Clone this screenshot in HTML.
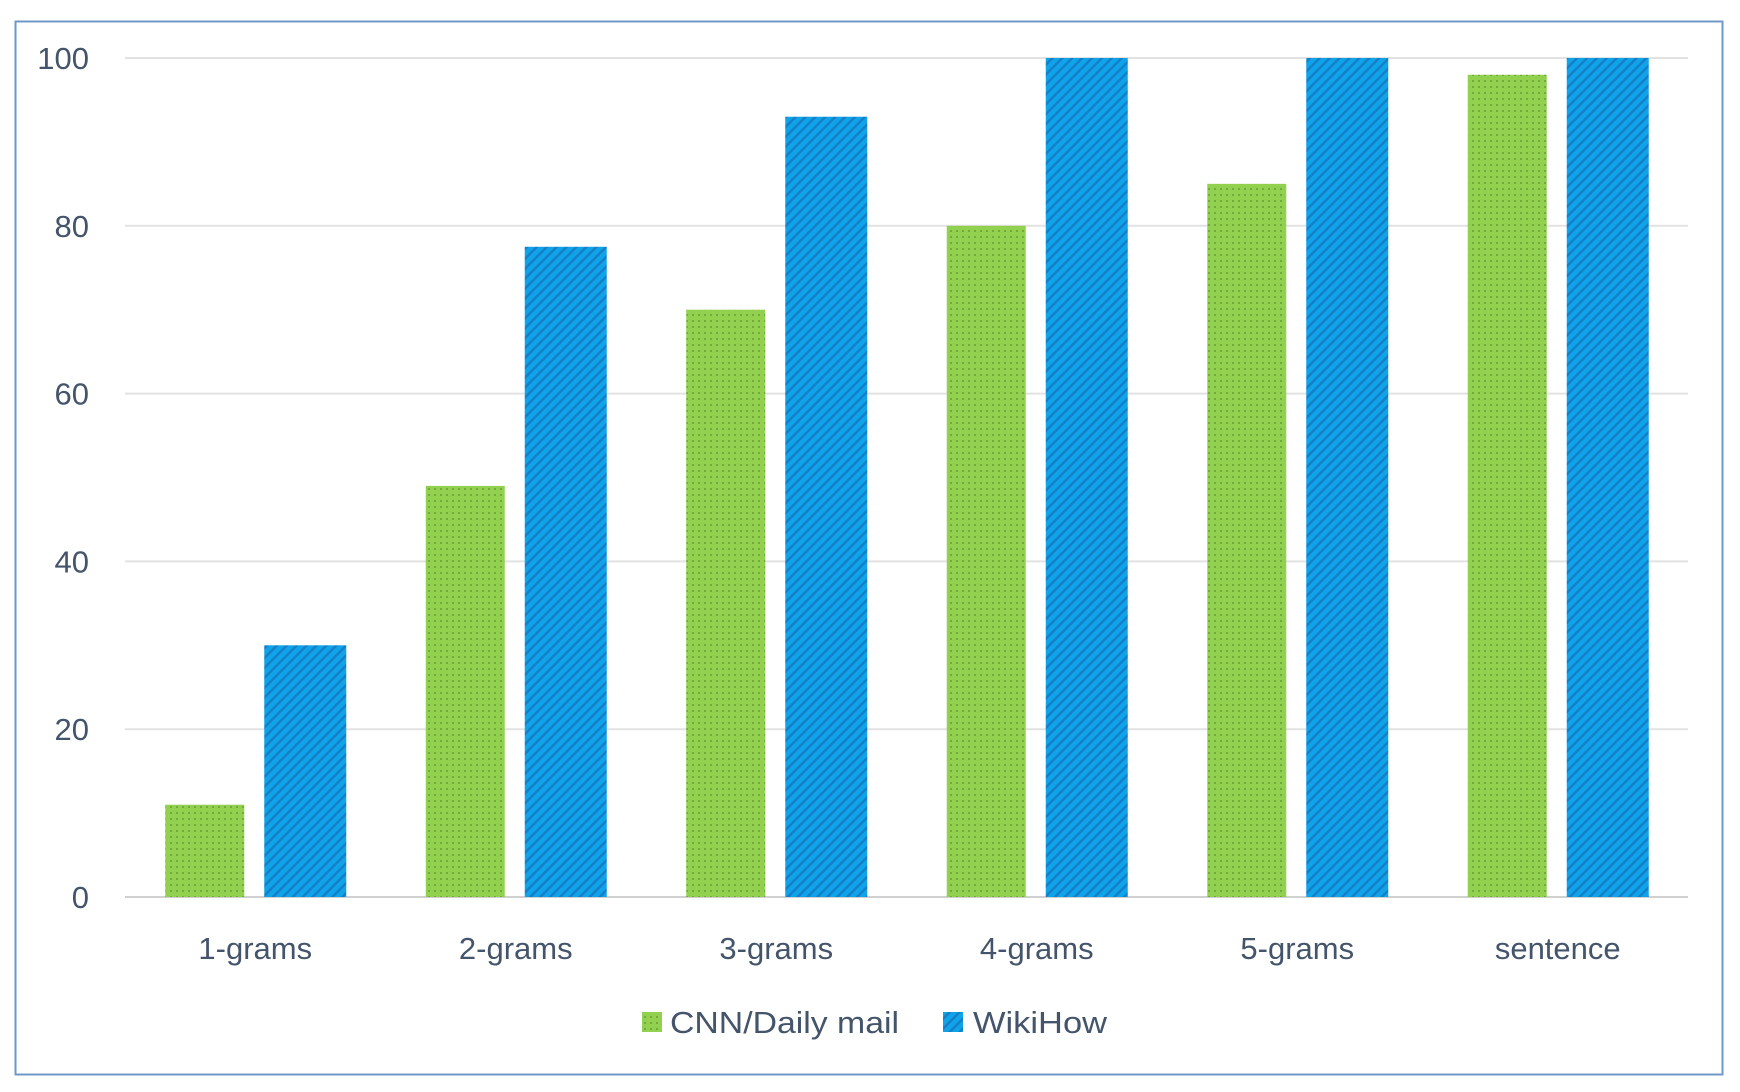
<!DOCTYPE html>
<html><head><meta charset="utf-8"><style>html,body{margin:0;padding:0;background:#fff}svg{display:block}</style></head>
<body>
<svg id="chart" width="1740" height="1092" xmlns="http://www.w3.org/2000/svg" font-family="'Liberation Sans', sans-serif">
<defs>
<pattern id="dots" width="6" height="6" patternUnits="userSpaceOnUse"><rect width="6" height="6" fill="#92D050"/><circle cx="3" cy="3" r="0.9" fill="#5f8f2a"/></pattern>
<pattern id="stripes" width="7" height="7" patternUnits="userSpaceOnUse" patternTransform="rotate(45)"><rect width="7" height="7" fill="#0FA3EA"/><rect width="2.5" height="7" fill="#1580C8"/></pattern>
</defs>
<rect x="15.5" y="21.5" width="1707" height="1053" fill="#fff" stroke="#6f9ac7" stroke-width="2"/>
<g id="grid"></g><g id="bars"></g><g id="labels"></g>
<g>
<rect x="642" y="1012" width="20" height="20" fill="url(#dots)"/>
<text x="670" y="1033" font-size="31" fill="#44546A" textLength="229" lengthAdjust="spacingAndGlyphs">CNN/Daily mail</text>
<rect x="943" y="1012" width="20" height="20" fill="url(#stripes)"/>
<text x="973" y="1033" font-size="31" fill="#44546A" textLength="134" lengthAdjust="spacingAndGlyphs">WikiHow</text>
</g>
</svg>
<script>
const categories = ["1-grams","2-grams","3-grams","4-grams","5-grams","sentence"];
const cnnValues = [11,49,70,80,85,98];
const wikiValues = [30,77.5,93,100,100,100];
const yTicks = [0,20,40,60,80,100];
const NS="http://www.w3.org/2000/svg";
const X0=125,X1=1688,Y0=897,Y1=58,YMAX=100;
const y=v=>Y0-(v/YMAX)*(Y0-Y1);
const bw=(X1-X0)/categories.length;
const xc=i=>X0+bw*(i+0.5);
function mk(t,a,p){const e=document.createElementNS(NS,t);for(const k in a)e.setAttribute(k,a[k]);p.appendChild(e);return e;}
const grid=document.getElementById('grid'),bars=document.getElementById('bars'),labels=document.getElementById('labels');
yTicks.forEach(t=>{
 const l=mk('line',{x1:X0,x2:X1,y1:y(t),y2:y(t),stroke:t===0?'#d0d0d0':'#e2e2e2','stroke-width':2},grid);
 
 
 const tx=mk('text',{x:89,y:y(t)+11,'text-anchor':'end','font-size':31,fill:'#44546A'},labels);
 
 
 tx.textContent=t;
});
categories.forEach((c,i)=>{
 const cx=xc(i);
 const g=mk('rect',{x:cx-90,y:y(cnnValues[i]),width:79,height:Y0-y(cnnValues[i]),fill:'url(#dots)'},bars);
 
 
 const b=mk('rect',{x:cx+9,y:y(wikiValues[i]),width:82,height:Y0-y(wikiValues[i]),fill:'url(#stripes)'},bars);
 
 
 const t=mk('text',{x:cx,y:959,'text-anchor':'middle','font-size':31,fill:'#44546A'},labels);
 
 
 t.textContent=c;
});
</script>
</body></html>
